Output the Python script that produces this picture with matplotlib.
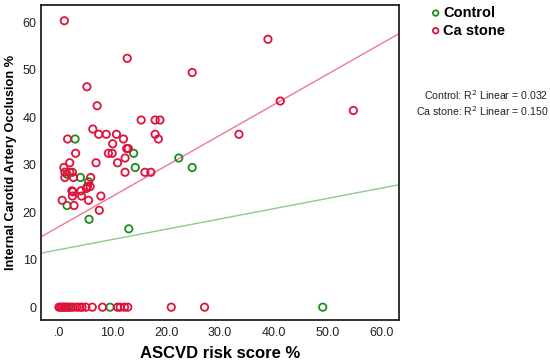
import matplotlib
matplotlib.use("Agg")
import matplotlib.pyplot as plt
import numpy as np

plt.rcParams["font.family"] = ["Liberation Sans", "DejaVu Sans"]

# ── datos ──
ctrl_x = [3.0, 13.9, 14.2, 22.3, 24.8, 1.5, 4.0, 5.5, 1.5, 5.6, 13.0,
          1.8, 9.5, 49.1]
ctrl_y = [35.4, 32.4, 29.4, 31.4, 29.4, 28.0, 27.3, 26.4, 21.4, 18.5, 16.5,
          0.0, 0.0, 0.0]

ca_x = [1.0, 12.7, 24.8, 5.2, 7.1, 15.3, 17.9, 18.8, 38.9, 41.2, 54.8, 33.5,
        6.3, 7.4, 8.8, 10.7, 17.9, 1.6, 12.0, 18.5, 10.0, 12.6, 12.9, 9.2,
        9.9, 3.1, 2.0, 6.9, 10.9, 12.3, 0.9, 12.3, 16.0, 17.1,
        1.1, 2.0, 2.5, 1.1, 2.7, 5.9, 5.3, 5.8, 5.1, 2.4, 2.6, 4.1,
        2.5, 4.2, 7.8, 0.6, 5.5, 2.8, 7.5,
        0.0, 0.3, 0.6, 0.9, 1.2, 1.5, 2.2, 2.6, 3.3, 3.9, 4.3, 5.0, 6.2,
        8.1, 10.9, 11.4, 12.2, 12.8, 20.9, 27.1]
ca_y = [60.3, 52.4, 49.4, 46.4, 42.4, 39.4, 39.4, 39.4, 56.4, 43.4, 41.4, 36.4,
        37.5, 36.4, 36.4, 36.4, 36.4, 35.4, 35.4, 35.4, 34.4, 33.4, 33.4, 32.4,
        32.4, 32.4, 30.4, 30.4, 30.4, 31.4, 29.4, 28.4, 28.4, 28.4,
        28.4, 28.4, 28.4, 27.3, 27.3, 27.3, 25.4, 25.4, 25.0, 24.5, 24.3, 24.5,
        23.4, 23.4, 23.4, 22.5, 22.5, 21.4, 20.4,
        0, 0, 0, 0, 0, 0, 0, 0, 0, 0, 0, 0, 0,
        0, 0, 0, 0, 0, 0, 0]

# rectas de ajuste (intercepto, pendiente)
ctrl_fit = (12.1, 0.216)
ca_fit = (16.95, 0.642)

x_ticks = [0, 10, 20, 30, 40, 50, 60]
x_labels = [".0", "10.0", "20.0", "30.0", "40.0", "50.0", "60.0"]
y_ticks = [0, 10, 20, 30, 40, 50, 60]

rojo = "#E0123C"
verde = "#1E8C1E"

fig = plt.figure(figsize=(5.5, 3.62), dpi=100)
ax = fig.add_axes([0.0745, 0.116, 0.651, 0.870])

xlim = (-3.35, 63.3)
xx = np.array(xlim)
ax.plot(xx, ctrl_fit[0] + ctrl_fit[1] * xx, color="#8CCB8C", lw=1.0, zorder=1)
ax.plot(xx, ca_fit[0] + ca_fit[1] * xx, color="#F07894", lw=1.0, zorder=1)

ax.scatter(ca_x, ca_y, s=28, facecolors="none", edgecolors=rojo, linewidths=1.3,
           zorder=3, label="Ca stone")
ax.scatter(ctrl_x, ctrl_y, s=28, facecolors="none", edgecolors=verde, linewidths=1.3,
           zorder=2, label="Control")

ax.set_xlim(*xlim)
ax.set_ylim(-2.7, 63.6)
ax.set_xticks(x_ticks)
ax.set_xticklabels(x_labels)
ax.set_yticks(y_ticks)
ax.tick_params(length=0, labelsize=9, colors="#222222")
ax.tick_params(axis="x", pad=5)
ax.tick_params(axis="y", pad=3)
for s in ax.spines.values():
    s.set_linewidth(1.3)
    s.set_color("#222222")

ax.set_xlabel("ASCVD risk score %", fontsize=12, fontweight="bold", labelpad=5)
ax.set_ylabel("Internal Carotid Artery Occlusion %", fontsize=9.2, fontweight="bold",
              labelpad=4)

# leyenda fuera del área
h, l = ax.get_legend_handles_labels()
fig.legend(h[::-1], l[::-1], loc="upper left", bbox_to_anchor=(0.755, 1.02),
           frameon=False, prop={"weight": "bold", "size": 10.5},
           handletextpad=0.0, labelspacing=0.25, handlelength=1.0,
           markerscale=0.75)

fig.text(0.997, 0.737, "Control: R$^2$ Linear = 0.032", ha="right", va="center",
         fontsize=7.6, color="#222222")
fig.text(0.997, 0.692, "Ca stone: R$^2$ Linear = 0.150", ha="right", va="center",
         fontsize=7.6, color="#222222")

fig.savefig("out.png", dpi=100)
